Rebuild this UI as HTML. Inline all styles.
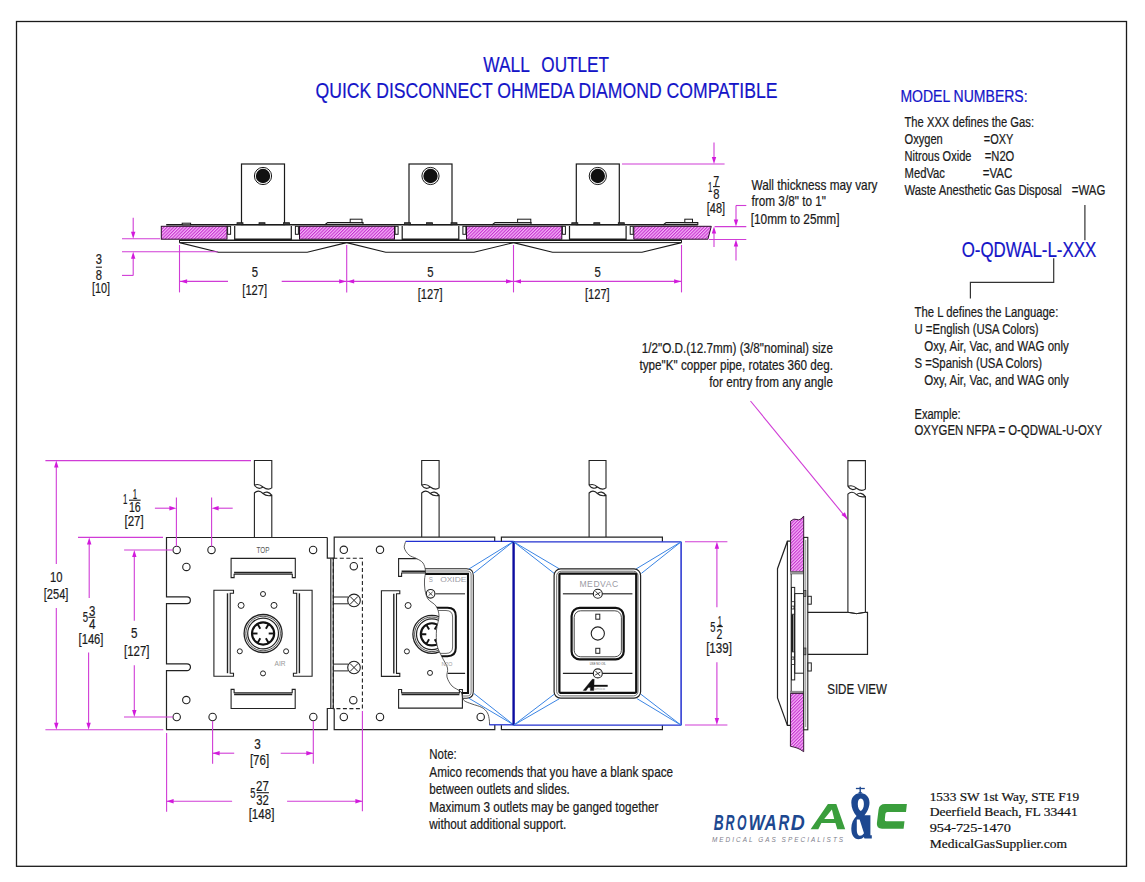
<!DOCTYPE html>
<html><head><meta charset="utf-8"><style>
html,body{margin:0;padding:0;background:#fff;}
svg{display:block;}
</style></head><body>
<svg width="1145" height="882" viewBox="0 0 1145 882">
<defs>
<pattern id="hatch" patternUnits="userSpaceOnUse" width="2.3" height="2.3" patternTransform="rotate(45)">
<rect width="2.3" height="2.3" fill="#f6b4f8"/><rect width="1.1" height="2.3" fill="#c634cf"/>
</pattern>
</defs>
<rect width="1145" height="882" fill="#fff"/>
<rect x="16.5" y="21.5" width="1110" height="844.8" rx="0" stroke="#1a1a1a" stroke-width="1.3" fill="none" />
<text x="483.3" y="71.9" font-size="22.5" fill="#1414c8" text-anchor="start" font-family='"Liberation Sans", sans-serif' textLength="46.5" lengthAdjust="spacingAndGlyphs" stroke="#1414c8" stroke-width="0.22" >WALL</text>
<text x="541.3" y="71.9" font-size="22.5" fill="#1414c8" text-anchor="start" font-family='"Liberation Sans", sans-serif' textLength="67.7" lengthAdjust="spacingAndGlyphs" stroke="#1414c8" stroke-width="0.22" >OUTLET</text>
<text x="315.5" y="97.6" font-size="22" fill="#1414c8" text-anchor="start" font-family='"Liberation Sans", sans-serif' textLength="462" lengthAdjust="spacingAndGlyphs" stroke="#1414c8" stroke-width="0.22" >QUICK DISCONNECT OHMEDA DIAMOND COMPATIBLE</text>
<text x="900.4" y="101.5" font-size="16" fill="#1414c8" text-anchor="start" font-family='"Liberation Sans", sans-serif' textLength="127.2" lengthAdjust="spacingAndGlyphs" stroke="#1414c8" stroke-width="0.22" >MODEL NUMBERS:</text>
<text x="904.5" y="126.8" font-size="14" fill="#1a1a1a" text-anchor="start" font-family='"Liberation Sans", sans-serif' textLength="129.5" lengthAdjust="spacingAndGlyphs" stroke="#1a1a1a" stroke-width="0.22" >The XXX defines the Gas:</text>
<text x="904.5" y="143.9" font-size="14" fill="#1a1a1a" text-anchor="start" font-family='"Liberation Sans", sans-serif' textLength="38.3" lengthAdjust="spacingAndGlyphs" stroke="#1a1a1a" stroke-width="0.22" >Oxygen</text>
<text x="983.8" y="143.9" font-size="14" fill="#1a1a1a" text-anchor="start" font-family='"Liberation Sans", sans-serif' textLength="29.5" lengthAdjust="spacingAndGlyphs" stroke="#1a1a1a" stroke-width="0.22" >=OXY</text>
<text x="904.5" y="160.8" font-size="14" fill="#1a1a1a" text-anchor="start" font-family='"Liberation Sans", sans-serif' textLength="67" lengthAdjust="spacingAndGlyphs" stroke="#1a1a1a" stroke-width="0.22" >Nitrous Oxide</text>
<text x="984.8" y="160.8" font-size="14" fill="#1a1a1a" text-anchor="start" font-family='"Liberation Sans", sans-serif' textLength="29.5" lengthAdjust="spacingAndGlyphs" stroke="#1a1a1a" stroke-width="0.22" >=N2O</text>
<text x="904.5" y="177.8" font-size="14" fill="#1a1a1a" text-anchor="start" font-family='"Liberation Sans", sans-serif' textLength="40.5" lengthAdjust="spacingAndGlyphs" stroke="#1a1a1a" stroke-width="0.22" >MedVac</text>
<text x="982.8" y="177.8" font-size="14" fill="#1a1a1a" text-anchor="start" font-family='"Liberation Sans", sans-serif' textLength="29.5" lengthAdjust="spacingAndGlyphs" stroke="#1a1a1a" stroke-width="0.22" >=VAC</text>
<text x="904.5" y="194.5" font-size="14" fill="#1a1a1a" text-anchor="start" font-family='"Liberation Sans", sans-serif' textLength="157.3" lengthAdjust="spacingAndGlyphs" stroke="#1a1a1a" stroke-width="0.22" >Waste Anesthetic Gas Disposal</text>
<text x="1071.8" y="194.5" font-size="14" fill="#1a1a1a" text-anchor="start" font-family='"Liberation Sans", sans-serif' textLength="33.6" lengthAdjust="spacingAndGlyphs" stroke="#1a1a1a" stroke-width="0.22" >=WAG</text>
<line x1="1084.9" y1="205" x2="1084.9" y2="240.2" stroke="#333" stroke-width="1.2" />
<text x="961.7" y="256.9" font-size="21.8" fill="#1414c8" text-anchor="start" font-family='"Liberation Sans", sans-serif' textLength="134.6" lengthAdjust="spacingAndGlyphs" stroke="#1414c8" stroke-width="0.22" >O-QDWAL-L-XXX</text>
<path d="M1053.7,258.3 V282.4 H970.4 V298.4" stroke="#333" stroke-width="1.2" fill="none" />
<text x="914.5" y="317.1" font-size="14" fill="#1a1a1a" text-anchor="start" font-family='"Liberation Sans", sans-serif' textLength="143.8" lengthAdjust="spacingAndGlyphs" stroke="#1a1a1a" stroke-width="0.22" >The L defines the Language:</text>
<text x="914.5" y="333.8" font-size="14" fill="#1a1a1a" text-anchor="start" font-family='"Liberation Sans", sans-serif' textLength="124.1" lengthAdjust="spacingAndGlyphs" stroke="#1a1a1a" stroke-width="0.22" >U =English (USA Colors)</text>
<text x="924.2" y="351.3" font-size="14" fill="#1a1a1a" text-anchor="start" font-family='"Liberation Sans", sans-serif' textLength="144.6" lengthAdjust="spacingAndGlyphs" stroke="#1a1a1a" stroke-width="0.22" >Oxy, Air, Vac, and WAG only</text>
<text x="914.5" y="368.3" font-size="14" fill="#1a1a1a" text-anchor="start" font-family='"Liberation Sans", sans-serif' textLength="127.5" lengthAdjust="spacingAndGlyphs" stroke="#1a1a1a" stroke-width="0.22" >S =Spanish (USA Colors)</text>
<text x="924.2" y="385.4" font-size="14" fill="#1a1a1a" text-anchor="start" font-family='"Liberation Sans", sans-serif' textLength="144.6" lengthAdjust="spacingAndGlyphs" stroke="#1a1a1a" stroke-width="0.22" >Oxy, Air, Vac, and WAG only</text>
<text x="914.5" y="418.6" font-size="14" fill="#1a1a1a" text-anchor="start" font-family='"Liberation Sans", sans-serif' textLength="46.2" lengthAdjust="spacingAndGlyphs" stroke="#1a1a1a" stroke-width="0.22" >Example:</text>
<text x="914.5" y="435.0" font-size="14" fill="#1a1a1a" text-anchor="start" font-family='"Liberation Sans", sans-serif' textLength="187.5" lengthAdjust="spacingAndGlyphs" stroke="#1a1a1a" stroke-width="0.22" >OXYGEN NFPA = O-QDWAL-U-OXY</text>
<text x="833" y="352.6" font-size="14" fill="#1a1a1a" text-anchor="end" font-family='"Liberation Sans", sans-serif' textLength="191.2" lengthAdjust="spacingAndGlyphs" stroke="#1a1a1a" stroke-width="0.22" >1/2"O.D.(12.7mm) (3/8"nominal) size</text>
<text x="833" y="370.0" font-size="14" fill="#1a1a1a" text-anchor="end" font-family='"Liberation Sans", sans-serif' textLength="193.5" lengthAdjust="spacingAndGlyphs" stroke="#1a1a1a" stroke-width="0.22" >type"K" copper pipe, rotates 360 deg.</text>
<text x="833" y="387.1" font-size="14" fill="#1a1a1a" text-anchor="end" font-family='"Liberation Sans", sans-serif' textLength="123.7" lengthAdjust="spacingAndGlyphs" stroke="#1a1a1a" stroke-width="0.22" >for entry from any angle</text>
<line x1="750.5" y1="401" x2="847.4" y2="519.3" stroke="#d03cd6" stroke-width="1.1" />
<line x1="166.2" y1="224.7" x2="697.8" y2="224.7" stroke="#1a1a1a" stroke-width="1.6" />
<path d="M324.6,225 L327.6,222.6 H363 V225" stroke="#1a1a1a" stroke-width="1.1" fill="none" />
<path d="M492,225 L495,222.6 H531 V225" stroke="#1a1a1a" stroke-width="1.1" fill="none" />
<path d="M663.1,225 L666.1,222.6 H697.8 V225" stroke="#1a1a1a" stroke-width="1.1" fill="none" />
<rect x="182.2" y="223.2" width="8.400000000000006" height="1.6" rx="0" stroke="#1a1a1a" stroke-width="1" fill="white" />
<rect x="350.2" y="219.2" width="11.800000000000011" height="3.4000000000000057" rx="0" stroke="#1a1a1a" stroke-width="1" fill="white" />
<rect x="517.6" y="219.2" width="13.199999999999932" height="3.4000000000000057" rx="0" stroke="#1a1a1a" stroke-width="1" fill="white" />
<rect x="684.8" y="219.2" width="7.7000000000000455" height="3.4000000000000057" rx="0" stroke="#1a1a1a" stroke-width="1" fill="white" />
<rect x="161.3" y="226.3" width="65.69999999999999" height="12.9" rx="0" stroke="#2a0a2a" stroke-width="1" fill="url(#hatch)" />
<rect x="299.5" y="226.3" width="95.0" height="12.9" rx="0" stroke="#2a0a2a" stroke-width="1" fill="url(#hatch)" />
<rect x="466.5" y="226.3" width="95.29999999999995" height="12.9" rx="0" stroke="#2a0a2a" stroke-width="1" fill="url(#hatch)" />
<path d="M633.8,226.3 H711.3 L707.9,239.2 H633.8 Z" stroke="#2a0a2a" stroke-width="1" fill="url(#hatch)" />
<rect x="241.5" y="164" width="43" height="60.6" rx="0" stroke="#1a1a1a" stroke-width="1.2" fill="white" />
<circle cx="263.0" cy="176" r="8.6" stroke="#1a1a1a" stroke-width="1" fill="white" />
<circle cx="263.0" cy="176" r="7.2" stroke="none" stroke-width="0" fill="#111" />
<rect x="237.0" y="222.7" width="6" height="2" rx="0" stroke="#1a1a1a" stroke-width="0.8" fill="#444" />
<rect x="259.0" y="222.7" width="6" height="2" rx="0" stroke="#1a1a1a" stroke-width="0.8" fill="#444" />
<rect x="283.5" y="222.7" width="6" height="2" rx="0" stroke="#1a1a1a" stroke-width="0.8" fill="#444" />
<rect x="227.6" y="226.3" width="3" height="8" rx="0" stroke="#1a1a1a" stroke-width="1" fill="white" />
<rect x="295.4" y="226.3" width="3" height="8" rx="0" stroke="#1a1a1a" stroke-width="1" fill="white" />
<path d="M234.7,226 V239.6 H291.3 V226" stroke="#1a1a1a" stroke-width="1.2" fill="none" />
<line x1="234.7" y1="239.6" x2="291.3" y2="239.6" stroke="#1a1a1a" stroke-width="2" />
<rect x="409.0" y="164" width="43" height="60.6" rx="0" stroke="#1a1a1a" stroke-width="1.2" fill="white" />
<circle cx="430.5" cy="176" r="8.6" stroke="#1a1a1a" stroke-width="1" fill="white" />
<circle cx="430.5" cy="176" r="7.2" stroke="none" stroke-width="0" fill="#111" />
<rect x="404.5" y="222.7" width="6" height="2" rx="0" stroke="#1a1a1a" stroke-width="0.8" fill="#444" />
<rect x="426.5" y="222.7" width="6" height="2" rx="0" stroke="#1a1a1a" stroke-width="0.8" fill="#444" />
<rect x="451.0" y="222.7" width="6" height="2" rx="0" stroke="#1a1a1a" stroke-width="0.8" fill="#444" />
<rect x="395.1" y="226.3" width="3" height="8" rx="0" stroke="#1a1a1a" stroke-width="1" fill="white" />
<rect x="462.9" y="226.3" width="3" height="8" rx="0" stroke="#1a1a1a" stroke-width="1" fill="white" />
<path d="M402.2,226 V239.6 H458.8 V226" stroke="#1a1a1a" stroke-width="1.2" fill="none" />
<line x1="402.2" y1="239.6" x2="458.8" y2="239.6" stroke="#1a1a1a" stroke-width="2" />
<rect x="576.3" y="164" width="43" height="60.6" rx="0" stroke="#1a1a1a" stroke-width="1.2" fill="white" />
<circle cx="597.8" cy="176" r="8.6" stroke="#1a1a1a" stroke-width="1" fill="white" />
<circle cx="597.8" cy="176" r="7.2" stroke="none" stroke-width="0" fill="#111" />
<rect x="571.8" y="222.7" width="6" height="2" rx="0" stroke="#1a1a1a" stroke-width="0.8" fill="#444" />
<rect x="593.8" y="222.7" width="6" height="2" rx="0" stroke="#1a1a1a" stroke-width="0.8" fill="#444" />
<rect x="618.3" y="222.7" width="6" height="2" rx="0" stroke="#1a1a1a" stroke-width="0.8" fill="#444" />
<rect x="562.4" y="226.3" width="3" height="8" rx="0" stroke="#1a1a1a" stroke-width="1" fill="white" />
<rect x="630.1999999999999" y="226.3" width="3" height="8" rx="0" stroke="#1a1a1a" stroke-width="1" fill="white" />
<path d="M569.5,226 V239.6 H626.0999999999999 V226" stroke="#1a1a1a" stroke-width="1.2" fill="none" />
<line x1="569.5" y1="239.6" x2="626.0999999999999" y2="239.6" stroke="#1a1a1a" stroke-width="2" />
<line x1="179.5" y1="240.3" x2="681.5" y2="240.3" stroke="#1a1a1a" stroke-width="1.6" />
<line x1="179.5" y1="242.6" x2="681.5" y2="242.6" stroke="#1a1a1a" stroke-width="1" />
<line x1="179.5" y1="240" x2="179.5" y2="242.6" stroke="#1a1a1a" stroke-width="1" />
<line x1="681.5" y1="240" x2="681.5" y2="242.6" stroke="#1a1a1a" stroke-width="1" />
<path d="M179.5,242.6 L218.5,252.2 H307.2 L346.7,242.6" stroke="#1a1a1a" stroke-width="1.1" fill="none" />
<path d="M346.7,242.6 L385.7,252.2 H474.0 L513.5,242.6" stroke="#1a1a1a" stroke-width="1.1" fill="none" />
<path d="M513.5,242.6 L552.5,252.2 H642.0 L681.5,242.6" stroke="#1a1a1a" stroke-width="1.1" fill="none" />
<line x1="122" y1="238.7" x2="160" y2="238.7" stroke="#d03cd6" stroke-width="1.1" />
<line x1="122" y1="251.8" x2="217.5" y2="251.8" stroke="#d03cd6" stroke-width="1.1" />
<line x1="133.2" y1="217.8" x2="133.2" y2="233" stroke="#d03cd6" stroke-width="1.1" />
<polygon points="133.2,238.7 131.0,231.7 135.39999999999998,231.7" fill="#d21adc"/>
<line x1="133.2" y1="275.4" x2="133.2" y2="258" stroke="#d03cd6" stroke-width="1.1" />
<polygon points="133.2,251.8 131.0,258.8 135.39999999999998,258.8" fill="#d21adc"/>
<line x1="122" y1="275.4" x2="133.2" y2="275.4" stroke="#d03cd6" stroke-width="1.1" />
<line x1="179.5" y1="245" x2="179.5" y2="292.4" stroke="#d03cd6" stroke-width="1.1" />
<line x1="346.7" y1="245" x2="346.7" y2="292.4" stroke="#d03cd6" stroke-width="1.1" />
<line x1="513.5" y1="245" x2="513.5" y2="292.4" stroke="#d03cd6" stroke-width="1.1" />
<line x1="681.5" y1="245" x2="681.5" y2="292.4" stroke="#d03cd6" stroke-width="1.1" />
<line x1="179.6" y1="281.4" x2="228" y2="281.4" stroke="#d03cd6" stroke-width="1.1" />
<line x1="281.7" y1="281.4" x2="346.7" y2="281.4" stroke="#d03cd6" stroke-width="1.1" />
<line x1="346.7" y1="281.4" x2="513.5" y2="281.4" stroke="#d03cd6" stroke-width="1.1" />
<line x1="513.5" y1="281.4" x2="681.6" y2="281.4" stroke="#d03cd6" stroke-width="1.1" />
<polygon points="180.1,281.4 187.1,279.2 187.1,283.59999999999997" fill="#d21adc"/>
<polygon points="346.2,281.4 339.2,279.2 339.2,283.59999999999997" fill="#d21adc"/>
<polygon points="347.2,281.4 354.2,279.2 354.2,283.59999999999997" fill="#d21adc"/>
<polygon points="513.0,281.4 506.0,279.2 506.0,283.59999999999997" fill="#d21adc"/>
<polygon points="514.0,281.4 521.0,279.2 521.0,283.59999999999997" fill="#d21adc"/>
<polygon points="681.1,281.4 674.1,279.2 674.1,283.59999999999997" fill="#d21adc"/>
<text x="255.0" y="277.1" font-size="14.5" fill="#1a1a1a" text-anchor="middle" font-family='"Liberation Sans", sans-serif' textLength="6.3" lengthAdjust="spacingAndGlyphs" stroke="#1a1a1a" stroke-width="0.22" >5</text>
<text x="254.7" y="295.0" font-size="14.5" fill="#1a1a1a" text-anchor="middle" font-family='"Liberation Sans", sans-serif' textLength="24.8" lengthAdjust="spacingAndGlyphs" stroke="#1a1a1a" stroke-width="0.22" >[127]</text>
<text x="430.4" y="277.1" font-size="14.5" fill="#1a1a1a" text-anchor="middle" font-family='"Liberation Sans", sans-serif' textLength="6.3" lengthAdjust="spacingAndGlyphs" stroke="#1a1a1a" stroke-width="0.22" >5</text>
<text x="430.09999999999997" y="298.9" font-size="14.5" fill="#1a1a1a" text-anchor="middle" font-family='"Liberation Sans", sans-serif' textLength="24.8" lengthAdjust="spacingAndGlyphs" stroke="#1a1a1a" stroke-width="0.22" >[127]</text>
<text x="597.6" y="277.1" font-size="14.5" fill="#1a1a1a" text-anchor="middle" font-family='"Liberation Sans", sans-serif' textLength="6.3" lengthAdjust="spacingAndGlyphs" stroke="#1a1a1a" stroke-width="0.22" >5</text>
<text x="597.3000000000001" y="298.9" font-size="14.5" fill="#1a1a1a" text-anchor="middle" font-family='"Liberation Sans", sans-serif' textLength="24.8" lengthAdjust="spacingAndGlyphs" stroke="#1a1a1a" stroke-width="0.22" >[127]</text>
<line x1="622" y1="164" x2="724.6" y2="164" stroke="#d03cd6" stroke-width="1.1" />
<line x1="714" y1="142.5" x2="714" y2="158" stroke="#d03cd6" stroke-width="1.1" />
<polygon points="714,164 711.8,157 716.2,157" fill="#d21adc"/>
<line x1="714" y1="247" x2="714" y2="232" stroke="#d03cd6" stroke-width="1.1" />
<polygon points="714,226.6 711.8,233.6 716.2,233.6" fill="#d21adc"/>
<line x1="714.6" y1="226.6" x2="746.3" y2="226.6" stroke="#d03cd6" stroke-width="1.1" />
<line x1="708.8" y1="239.5" x2="746.3" y2="239.5" stroke="#d03cd6" stroke-width="1.1" />
<line x1="736" y1="205.5" x2="746.3" y2="205.5" stroke="#d03cd6" stroke-width="1.1" />
<line x1="736" y1="205.5" x2="736" y2="221" stroke="#d03cd6" stroke-width="1.1" />
<polygon points="736,226.6 733.8,219.6 738.2,219.6" fill="#d21adc"/>
<line x1="736" y1="260.6" x2="736" y2="245" stroke="#d03cd6" stroke-width="1.1" />
<polygon points="736,239.5 733.8,246.5 738.2,246.5" fill="#d21adc"/>
<text x="751.5" y="189.6" font-size="14.5" fill="#1a1a1a" text-anchor="start" font-family='"Liberation Sans", sans-serif' textLength="126" lengthAdjust="spacingAndGlyphs" stroke="#1a1a1a" stroke-width="0.22" >Wall thickness may vary</text>
<text x="751.5" y="206.3" font-size="14.5" fill="#1a1a1a" text-anchor="start" font-family='"Liberation Sans", sans-serif' textLength="74.5" lengthAdjust="spacingAndGlyphs" stroke="#1a1a1a" stroke-width="0.22" >from 3/8" to 1"</text>
<text x="750.7" y="224.0" font-size="14.5" fill="#1a1a1a" text-anchor="start" font-family='"Liberation Sans", sans-serif' textLength="88.8" lengthAdjust="spacingAndGlyphs" stroke="#1a1a1a" stroke-width="0.22" >[10mm to 25mm]</text>
<text x="98.9" y="264.4" font-size="15" fill="#1a1a1a" text-anchor="middle" font-family='"Liberation Sans", sans-serif' textLength="6.2" lengthAdjust="spacingAndGlyphs" stroke="#1a1a1a" stroke-width="0.22" >3</text>
<line x1="95.9" y1="267.2" x2="101.9" y2="267.2" stroke="#1a1a1a" stroke-width="1.1" />
<text x="98.9" y="279.7" font-size="15" fill="#1a1a1a" text-anchor="middle" font-family='"Liberation Sans", sans-serif' textLength="6.2" lengthAdjust="spacingAndGlyphs" stroke="#1a1a1a" stroke-width="0.22" >8</text>
<text x="101" y="293.4" font-size="15" fill="#1a1a1a" text-anchor="middle" font-family='"Liberation Sans", sans-serif' textLength="18.1" lengthAdjust="spacingAndGlyphs" stroke="#1a1a1a" stroke-width="0.22" >[10]</text>
<text x="710.05" y="191.8" font-size="15" fill="#1a1a1a" text-anchor="middle" font-family='"Liberation Sans", sans-serif' textLength="4.3" lengthAdjust="spacingAndGlyphs" stroke="#1a1a1a" stroke-width="0.22" >1</text>
<text x="716.3" y="186.2" font-size="15" fill="#1a1a1a" text-anchor="middle" font-family='"Liberation Sans", sans-serif' textLength="6.0" lengthAdjust="spacingAndGlyphs" stroke="#1a1a1a" stroke-width="0.22" >7</text>
<line x1="713" y1="186.6" x2="719.8" y2="186.6" stroke="#1a1a1a" stroke-width="1.1" />
<text x="716.3" y="198.9" font-size="15" fill="#1a1a1a" text-anchor="middle" font-family='"Liberation Sans", sans-serif' textLength="6.2" lengthAdjust="spacingAndGlyphs" stroke="#1a1a1a" stroke-width="0.22" >8</text>
<text x="715.9" y="212.5" font-size="15" fill="#1a1a1a" text-anchor="middle" font-family='"Liberation Sans", sans-serif' textLength="18.2" lengthAdjust="spacingAndGlyphs" stroke="#1a1a1a" stroke-width="0.22" >[48]</text>
<path d="M254.4,485.2 V460.5 H271.8 V487.9 C269.4,489.8 266.4,489.59999999999997 263.0,487.0 C260.4,484.59999999999997 257.4,483.8 254.4,485.2" stroke="#222" stroke-width="1.1" fill="none" />
<path d="M254.4,485.2 C256.9,488.8 260.4,488.8 263.0,487.0" stroke="#222" stroke-width="1.1" fill="none" />
<path d="M254.4,537.5 V493.0 C256.9,490.4 259.9,490.4 263.0,493.5 C265.4,495.8 268.9,496.0 271.8,495.4 V537.5" stroke="#222" stroke-width="1.1" fill="none" />
<path d="M263.0,493.5 C265.4,491.4 268.9,491.4 271.8,495.4" stroke="#222" stroke-width="1.1" fill="none" />
<path d="M421.7,485.2 V460.5 H439.1 V487.9 C436.7,489.8 433.7,489.59999999999997 430.3,487.0 C427.7,484.59999999999997 424.7,483.8 421.7,485.2" stroke="#222" stroke-width="1.1" fill="none" />
<path d="M421.7,485.2 C424.2,488.8 427.7,488.8 430.3,487.0" stroke="#222" stroke-width="1.1" fill="none" />
<path d="M421.7,537.1 V493.0 C424.2,490.4 427.2,490.4 430.3,493.5 C432.7,495.8 436.2,496.0 439.1,495.4 V537.1" stroke="#222" stroke-width="1.1" fill="none" />
<path d="M430.3,493.5 C432.7,491.4 436.2,491.4 439.1,495.4" stroke="#222" stroke-width="1.1" fill="none" />
<path d="M589.1,485.2 V460.5 H606.0 V487.9 C603.67,489.8 600.76,489.59999999999997 597.45,487.0 C594.93,484.59999999999997 592.01,483.8 589.1,485.2" stroke="#222" stroke-width="1.1" fill="none" />
<path d="M589.1,485.2 C591.53,488.8 594.93,488.8 597.45,487.0" stroke="#222" stroke-width="1.1" fill="none" />
<path d="M589.1,537.1 V493.0 C591.53,490.4 594.44,490.4 597.45,493.5 C599.78,495.8 603.18,496.0 606.0,495.4 V537.1" stroke="#222" stroke-width="1.1" fill="none" />
<path d="M597.45,493.5 C599.78,491.4 603.18,491.4 606.0,495.4" stroke="#222" stroke-width="1.1" fill="none" />
<path d="M327.3,537.5 H166.5 V596.9 H187 A3.35,3.35 0 0 1 187,603.6 H166.5 V663.8 H187 A3.45,3.45 0 0 1 187,670.7 H166.5 V729.6 H327.3 V708.5 H334.2" stroke="#222" stroke-width="1.2" fill="none" />
<path d="M327.3,537.5 V558.2 H334.2" stroke="#222" stroke-width="1.2" fill="none" />
<line x1="330.8" y1="558.2" x2="330.8" y2="708.5" stroke="#333" stroke-width="1.3" />
<line x1="333.3" y1="558.2" x2="333.3" y2="708.5" stroke="#333" stroke-width="1.3" />
<circle cx="176.7" cy="549.9" r="3.7" stroke="#222" stroke-width="1.1" fill="none" />
<circle cx="211.5" cy="549.9" r="3.7" stroke="#222" stroke-width="1.1" fill="none" />
<circle cx="186.4" cy="566.9" r="3.7" stroke="#222" stroke-width="1.1" fill="none" />
<circle cx="313.1" cy="549.9" r="3.7" stroke="#222" stroke-width="1.1" fill="none" />
<circle cx="176.7" cy="717" r="3.7" stroke="#222" stroke-width="1.1" fill="none" />
<circle cx="212.6" cy="717" r="3.7" stroke="#222" stroke-width="1.1" fill="none" />
<circle cx="313.3" cy="717" r="3.7" stroke="#222" stroke-width="1.1" fill="none" />
<circle cx="186.3" cy="700.1" r="3.7" stroke="#222" stroke-width="1.1" fill="none" />
<text x="262.9" y="552.5" font-size="8.5" fill="#555" text-anchor="middle" font-family='"Liberation Sans", sans-serif' textLength="13" lengthAdjust="spacingAndGlyphs" >TOP</text>
<path d="M231.1,577.6 V558.4 H295.3 V577.6 H292.3 V574.2 H234.1 V577.6 Z" stroke="#222" stroke-width="1.1" fill="none" />
<line x1="234.1" y1="572.6" x2="292.3" y2="572.6" stroke="#222" stroke-width="1.6" />
<path d="M231.1,689.4 V708.5 H295.2 V689.4 H292.2 V692.8 H234.1 V689.4 Z" stroke="#222" stroke-width="1.1" fill="none" />
<line x1="234.1" y1="694.4" x2="292.2" y2="694.4" stroke="#222" stroke-width="1.6" />
<path d="M233.5,590.3 H213.9 V676.2 H233.5 V673.2 H230.2 V593.3 H233.5 Z" stroke="#222" stroke-width="1.1" fill="none" />
<line x1="227.5" y1="593.3" x2="227.5" y2="673.2" stroke="#222" stroke-width="1.4" />
<path d="M293.4,590.3 H312.1 V676.2 H293.4 V673.2 H296.7 V593.3 H293.4 Z" stroke="#222" stroke-width="1.1" fill="none" />
<line x1="299.4" y1="593.3" x2="299.4" y2="673.2" stroke="#222" stroke-width="1.4" />
<circle cx="263" cy="594" r="2.5" stroke="#222" stroke-width="1" fill="none" />
<circle cx="241.1" cy="605.4" r="3" stroke="#222" stroke-width="1" fill="none" />
<circle cx="274" cy="605.4" r="3" stroke="#222" stroke-width="1" fill="none" />
<circle cx="239.8" cy="651.3" r="2.5" stroke="#222" stroke-width="1" fill="none" />
<circle cx="286.1" cy="651.3" r="2.5" stroke="#222" stroke-width="1" fill="none" />
<circle cx="263" cy="673.4" r="2.5" stroke="#222" stroke-width="1" fill="none" />
<g >
<circle cx="263.1" cy="633.5" r="19" stroke="#222" stroke-width="1.3" fill="none" />
<circle cx="263.1" cy="633.5" r="17.3" stroke="#222" stroke-width="0.8" fill="none" />
<circle cx="263.1" cy="633.5" r="15.4" stroke="#222" stroke-width="1.2" fill="none" />
<circle cx="263.1" cy="633.5" r="11.1" stroke="#111" stroke-width="2.1" fill="none" />
<line x1="268.7" y1="633.5" x2="273.6" y2="633.5" stroke="#111" stroke-width="1.9" />
<line x1="265.9" y1="638.35" x2="268.35" y2="642.59" stroke="#111" stroke-width="1.9" />
<line x1="260.3" y1="638.35" x2="257.85" y2="642.59" stroke="#111" stroke-width="1.9" />
<line x1="257.5" y1="633.5" x2="252.6" y2="633.5" stroke="#111" stroke-width="1.9" />
<line x1="260.3" y1="628.65" x2="257.85" y2="624.41" stroke="#111" stroke-width="1.9" />
<line x1="265.9" y1="628.65" x2="268.35" y2="624.41" stroke="#111" stroke-width="1.9" />
</g>
<text x="280.1" y="666" font-size="6.5" fill="#999" text-anchor="middle" font-family='"Liberation Sans", sans-serif' textLength="11" lengthAdjust="spacingAndGlyphs" >AIR</text>
<path d="M334.2,558.2 V537.1 H494.7 V541.7" stroke="#222" stroke-width="1.2" fill="none" />
<path d="M334.2,708.5 V729.6 H494.8 V725" stroke="#222" stroke-width="1.2" fill="none" />
<circle cx="343.8" cy="549.8" r="3.7" stroke="#222" stroke-width="1.1" fill="none" />
<circle cx="380" cy="549.8" r="3.7" stroke="#222" stroke-width="1.1" fill="none" />
<circle cx="353.8" cy="566.2" r="3.7" stroke="#222" stroke-width="1.1" fill="none" />
<circle cx="353.3" cy="700.2" r="3.7" stroke="#222" stroke-width="1.1" fill="none" />
<circle cx="343.8" cy="716.9" r="3.7" stroke="#222" stroke-width="1.1" fill="none" />
<circle cx="380" cy="716.9" r="3.7" stroke="#222" stroke-width="1.1" fill="none" />
<circle cx="480.7" cy="716.9" r="3.7" stroke="#222" stroke-width="1.1" fill="none" />
<rect x="333.3" y="558.2" width="29.1" height="150.4" rx="0" stroke="#222" stroke-width="1.1" fill="none" stroke-dasharray="4,2.5"/>
<line x1="333.3" y1="597.0" x2="348" y2="597.0" stroke="#222" stroke-width="1" />
<line x1="333.3" y1="603.8" x2="348" y2="603.8" stroke="#222" stroke-width="1" />
<line x1="333.3" y1="664.1" x2="348" y2="664.1" stroke="#222" stroke-width="1" />
<line x1="333.3" y1="670.9" x2="348" y2="670.9" stroke="#222" stroke-width="1" />
<circle cx="354" cy="600.4" r="6.3" stroke="#222" stroke-width="1.1" fill="white" />
<line x1="350" y1="596.4" x2="358" y2="604.4" stroke="#222" stroke-width="1" />
<line x1="350" y1="604.4" x2="358" y2="596.4" stroke="#222" stroke-width="1" />
<circle cx="354" cy="667.5" r="6.3" stroke="#222" stroke-width="1.1" fill="white" />
<line x1="350" y1="663.5" x2="358" y2="671.5" stroke="#222" stroke-width="1" />
<line x1="350" y1="671.5" x2="358" y2="663.5" stroke="#222" stroke-width="1" />
<path d="M399.8,590.7 H381.4 V676.4 H399.8 V673.4 H396.5 V593.7 H399.8 Z" stroke="#222" stroke-width="1.1" fill="none" />
<line x1="393.8" y1="593.7" x2="393.8" y2="673.4" stroke="#222" stroke-width="1.4" />
<clipPath id="cutL"><path d="M300,530 H405.7 V541.4 C405.5,542.5 403.8,545.7 404.3,548 C404.9,550.3 407.0,553.2 409,555 C411.0,556.8 414.2,557.2 416.5,558.5 C418.8,559.8 421.5,560.9 423,563 C424.5,565.1 425.2,568.2 425.5,571 C425.8,573.8 424.6,576.8 424.5,580 C424.4,583.2 424.4,586.8 425,590 C425.6,593.2 426.2,596.3 428,599 C429.8,601.7 434.2,603.2 436,606 C437.8,608.8 438.9,612.0 439,616 C439.1,620.0 436.8,625.2 436.5,630 C436.2,634.8 436.1,640.5 437,645 C437.9,649.5 440.2,653.2 442,657 C443.8,660.8 446.7,664.7 447.5,668 C448.3,671.3 446.2,674.0 447,677 C447.8,680.0 449.7,683.5 452,686 C454.3,688.5 459.1,689.7 461,692 C462.9,694.3 461.7,698.0 463.5,700 C465.3,702.0 468.9,702.8 472,704 C475.1,705.2 479.4,706.0 482,707.5 C484.6,709.0 486.3,710.9 487.5,713 C488.7,715.1 489.0,718.0 489.3,720 C489.6,722.0 489.5,724.2 489.5,725 V760 H300 Z"/></clipPath>
<clipPath id="cutR"><path d="M405.7,530 H700 V760 H489.5 V725 C489.5,724.2 489.6,722.0 489.3,720 C489.0,718.0 488.7,715.1 487.5,713 C486.3,710.9 484.6,709.0 482,707.5 C479.4,706.0 475.1,705.2 472,704 C468.9,702.8 465.3,702.0 463.5,700 C461.7,698.0 462.9,694.3 461,692 C459.1,689.7 454.3,688.5 452,686 C449.7,683.5 447.8,680.0 447,677 C446.2,674.0 448.3,671.3 447.5,668 C446.7,664.7 443.8,660.8 442,657 C440.2,653.2 437.9,649.5 437,645 C436.1,640.5 436.2,634.8 436.5,630 C436.8,625.2 439.1,620.0 439,616 C438.9,612.0 437.8,608.8 436,606 C434.2,603.2 429.8,601.7 428,599 C426.2,596.3 425.6,593.2 425,590 C424.4,586.8 424.4,583.2 424.5,580 C424.6,576.8 425.8,573.8 425.5,571 C425.2,568.2 424.5,565.1 423,563 C421.5,560.9 418.8,559.8 416.5,558.5 C414.2,557.2 411.0,556.8 409,555 C407.0,553.2 404.9,550.3 404.3,548 C403.8,545.7 405.5,542.5 405.7,541.4 Z"/></clipPath>
<g clip-path="url(#cutL)">
<path d="M398.6,576.4 V558.6 H462.4 V576.4 H459.4 V573.0 H401.6 V576.4 Z" stroke="#222" stroke-width="1.1" fill="none" />
<line x1="401.6" y1="571.4" x2="459.4" y2="571.4" stroke="#222" stroke-width="1.6" />
<g >
<circle cx="431.9" cy="634.3" r="19" stroke="#222" stroke-width="1.3" fill="none" />
<circle cx="431.9" cy="634.3" r="17.3" stroke="#222" stroke-width="0.8" fill="none" />
<circle cx="431.9" cy="634.3" r="15.4" stroke="#222" stroke-width="1.2" fill="none" />
<circle cx="431.9" cy="634.3" r="11.1" stroke="#111" stroke-width="2.1" fill="none" />
<line x1="437.5" y1="634.3" x2="442.4" y2="634.3" stroke="#111" stroke-width="1.9" />
<line x1="434.7" y1="639.15" x2="437.15" y2="643.39" stroke="#111" stroke-width="1.9" />
<line x1="429.1" y1="639.15" x2="426.65" y2="643.39" stroke="#111" stroke-width="1.9" />
<line x1="426.3" y1="634.3" x2="421.4" y2="634.3" stroke="#111" stroke-width="1.9" />
<line x1="429.1" y1="629.45" x2="426.65" y2="625.21" stroke="#111" stroke-width="1.9" />
<line x1="434.7" y1="629.45" x2="437.15" y2="625.21" stroke="#111" stroke-width="1.9" />
</g>
<circle cx="408.1" cy="605.5" r="3" stroke="#222" stroke-width="1" fill="none" />
<circle cx="406.9" cy="651.4" r="2.5" stroke="#222" stroke-width="1" fill="none" />
<circle cx="430" cy="672.9" r="2.5" stroke="#222" stroke-width="1" fill="none" />
<circle cx="430" cy="594" r="2.5" stroke="#222" stroke-width="1" fill="none" />
<circle cx="453" cy="605.4" r="3" stroke="#222" stroke-width="1" fill="none" />
<circle cx="455" cy="651.3" r="2.5" stroke="#222" stroke-width="1" fill="none" />
</g>
<path d="M398.6,689.5 V708.1 H462.4 V689.5 H459.4 V692.9 H401.6 V689.5 Z" stroke="#222" stroke-width="1.1" fill="none" />
<line x1="401.6" y1="694.5" x2="459.4" y2="694.5" stroke="#222" stroke-width="1.6" />
<path d="M405.7,541.4 C405.5,542.5 403.8,545.7 404.3,548 C404.9,550.3 407.0,553.2 409,555 C411.0,556.8 414.2,557.2 416.5,558.5 C418.8,559.8 421.5,560.9 423,563 C424.5,565.1 425.2,568.2 425.5,571 C425.8,573.8 424.6,576.8 424.5,580 C424.4,583.2 424.4,586.8 425,590 C425.6,593.2 426.2,596.3 428,599 C429.8,601.7 434.2,603.2 436,606 C437.8,608.8 438.9,612.0 439,616 C439.1,620.0 436.8,625.2 436.5,630 C436.2,634.8 436.1,640.5 437,645 C437.9,649.5 440.2,653.2 442,657 C443.8,660.8 446.7,664.7 447.5,668 C448.3,671.3 446.2,674.0 447,677 C447.8,680.0 449.7,683.5 452,686 C454.3,688.5 459.1,689.7 461,692 C462.9,694.3 461.7,698.0 463.5,700 C465.3,702.0 468.9,702.8 472,704 C475.1,705.2 479.4,706.0 482,707.5 C484.6,709.0 486.3,710.9 487.5,713 C488.7,715.1 489.0,718.0 489.3,720 C489.6,722.0 489.5,724.2 489.5,725" stroke="#333" stroke-width="0.8" fill="none" />
<g clip-path="url(#cutR)">
<path d="M420,568.7 H466.5 Q473.3,568.7 473.3,575.5 V691.5 Q473.3,698.2 466.5,698.2 H420" stroke="#222" stroke-width="1.1" fill="none" />
<path d="M420,571 H467 Q471.1,571 471.1,575 V692 Q471.1,696 467,696 H420" stroke="#555" stroke-width="0.8" fill="none" />
<path d="M420,573.9 H468 V693 H420" stroke="#111" stroke-width="2.1" fill="none" />
<text x="428.8" y="581.9" font-size="7.8" fill="#9a9aa4" text-anchor="start" font-family='"Liberation Sans", sans-serif' textLength="4.1" lengthAdjust="spacingAndGlyphs" >S</text>
<text x="440.2" y="581.9" font-size="7.8" fill="#9a9aa4" text-anchor="start" font-family='"Liberation Sans", sans-serif' textLength="26.2" lengthAdjust="spacingAndGlyphs" >OXIDE</text>
<circle cx="430.6" cy="593.8" r="4.3" stroke="#222" stroke-width="1.1" fill="none" />
<line x1="428.5" y1="591.8" x2="432.7" y2="595.8" stroke="#222" stroke-width="0.8" />
<line x1="428.5" y1="595.8" x2="432.7" y2="591.8" stroke="#222" stroke-width="0.8" />
<line x1="435.2" y1="593.8" x2="465" y2="593.8" stroke="#666" stroke-width="1.5" />
<path d="M420,607.7 H447.5 Q455.8,607.7 455.8,616 V648 Q455.8,656.2 447.5,656.2 H420" stroke="#111" stroke-width="2" fill="none" />
<path d="M420,610.5 H446 Q452.6,610.5 452.6,617 V647 Q452.6,653.4 446,653.4 H420" stroke="#444" stroke-width="0.8" fill="none" />
<line x1="447.8" y1="673.4" x2="465.1" y2="673.4" stroke="#222" stroke-width="1.1" />
</g>
<text x="447" y="665.8" font-size="6" fill="#999" text-anchor="middle" font-family='"Liberation Sans", sans-serif' textLength="11" lengthAdjust="spacingAndGlyphs" >N2O</text>
<line x1="405.7" y1="541.4" x2="513.6" y2="541.4" stroke="#2230d0" stroke-width="1.3" />
<line x1="489.3" y1="724.8" x2="513.6" y2="724.8" stroke="#2230d0" stroke-width="1.3" />
<line x1="513.6" y1="541.4" x2="469.1" y2="568.9" stroke="#3a84e4" stroke-width="1" />
<line x1="513.6" y1="541.4" x2="473.5" y2="573.3" stroke="#3a84e4" stroke-width="1" />
<line x1="513.6" y1="724.8" x2="473.7" y2="693.3" stroke="#3a84e4" stroke-width="1" />
<line x1="513.6" y1="724.8" x2="468.8" y2="698.2" stroke="#3a84e4" stroke-width="1" />
<path d="M501.4,541.8 V537.1 H662.4 V541.8" stroke="#222" stroke-width="1.2" fill="none" />
<path d="M501.4,725.2 V729.6 H662.4 V725.2" stroke="#222" stroke-width="1.2" fill="none" />
<line x1="513.6" y1="541.8" x2="681.1" y2="541.8" stroke="#2230d0" stroke-width="1.3" />
<line x1="513.6" y1="725.2" x2="681.1" y2="725.2" stroke="#2230d0" stroke-width="1.3" />
<line x1="513.6" y1="541.4" x2="513.6" y2="725.2" stroke="#0c0ca0" stroke-width="2.4" />
<line x1="681.1" y1="541.8" x2="681.1" y2="725.2" stroke="#2230d0" stroke-width="1.5" />
<line x1="513.6" y1="541.8" x2="559.4" y2="568.9" stroke="#3a84e4" stroke-width="1" />
<line x1="513.6" y1="541.8" x2="554.1" y2="573.3" stroke="#3a84e4" stroke-width="1" />
<line x1="681.1" y1="541.8" x2="636.2" y2="568.9" stroke="#3a84e4" stroke-width="1" />
<line x1="681.1" y1="541.8" x2="641.5" y2="573.3" stroke="#3a84e4" stroke-width="1" />
<line x1="513.6" y1="725.2" x2="554.5" y2="694" stroke="#3a84e4" stroke-width="1" />
<line x1="513.6" y1="725.2" x2="559.4" y2="698.7" stroke="#3a84e4" stroke-width="1" />
<line x1="681.1" y1="725.2" x2="640.6" y2="694" stroke="#3a84e4" stroke-width="1" />
<line x1="681.1" y1="725.2" x2="637.1" y2="698.7" stroke="#3a84e4" stroke-width="1" />
<rect x="554.1" y="568.9" width="86.5" height="129.3" rx="6.5" stroke="#222" stroke-width="1.2" fill="white" />
<rect x="556.7" y="571.2" width="81.3" height="124.7" rx="4.5" stroke="#444" stroke-width="0.8" fill="none" />
<rect x="559.4" y="573.6" width="76.8" height="119.2" rx="1" stroke="#111" stroke-width="2.2" fill="none" />
<text x="599.1" y="586.9" font-size="9.6" fill="#9a9aa4" text-anchor="middle" font-family='"Liberation Sans", sans-serif' textLength="39.3" lengthAdjust="spacingAndGlyphs" letter-spacing="0.6">MEDVAC</text>
<line x1="562.9" y1="593.7" x2="632.4" y2="593.7" stroke="#555" stroke-width="1.4" />
<circle cx="597.8" cy="593.7" r="4.5" stroke="#222" stroke-width="1.1" fill="white" />
<line x1="595.5" y1="591.2" x2="600.2" y2="596.2" stroke="#222" stroke-width="0.9" />
<line x1="595.2" y1="595.2" x2="600.5" y2="592.2" stroke="#222" stroke-width="0.9" />
<rect x="571.6" y="607.9" width="52.1" height="51.5" rx="8" stroke="#111" stroke-width="2.2" fill="none" />
<rect x="574.2" y="610.8" width="47.2" height="46" rx="6.5" stroke="#333" stroke-width="0.9" fill="none" />
<rect x="595.8" y="614.2" width="4" height="5" rx="0" stroke="#222" stroke-width="1" fill="white" />
<rect x="595.8" y="648.3" width="4" height="5" rx="0" stroke="#222" stroke-width="1" fill="white" />
<circle cx="597.8" cy="633.5" r="6.6" stroke="#222" stroke-width="1.1" fill="none" />
<text x="597.8" y="665" font-size="3.6" fill="#444" text-anchor="middle" font-family='"Liberation Sans", sans-serif' textLength="16" lengthAdjust="spacingAndGlyphs" >USE NO OIL</text>
<line x1="562.9" y1="673.4" x2="632.4" y2="673.4" stroke="#222" stroke-width="1.1" />
<circle cx="597.8" cy="673.4" r="4.5" stroke="#222" stroke-width="1.1" fill="white" />
<line x1="595.5" y1="671" x2="600.2" y2="676" stroke="#222" stroke-width="0.9" />
<line x1="595.2" y1="675" x2="600.5" y2="672" stroke="#222" stroke-width="0.9" />
<path d="M583.2,690.4 L592.3,679.3 H594.2 L593.8,690.4 H590.3 L590.5,687.6 H588.2 L586.2,690.4 Z" stroke="#111" stroke-width="0.4" fill="#111" />
<line x1="592.5" y1="685.8" x2="607.7" y2="685.8" stroke="#111" stroke-width="1.9" />
<text x="594" y="690" font-size="4" fill="#999" text-anchor="start" font-family='"Liberation Sans", sans-serif' textLength="11" lengthAdjust="spacingAndGlyphs" >amico</text>
<path d="M790.6,521.1 Q794,518 797,519.5 T803.7,516.1 V571.8 H790.6 Z" stroke="#2a0a2a" stroke-width="0.9" fill="url(#hatch)" />
<rect x="790.6" y="571.8" width="13.1" height="2.2" rx="0" stroke="#777" stroke-width="0.6" fill="#999" />
<rect x="790.6" y="691.2" width="13.1" height="2.2" rx="0" stroke="#777" stroke-width="0.6" fill="#999" />
<path d="M790.6,693.4 H803.7 V751.7 Q800,749 797,748 T790.4,746.3 Z" stroke="#2a0a2a" stroke-width="0.9" fill="url(#hatch)" />
<rect x="803.7" y="537.4" width="4.1" height="192.4" rx="0" stroke="#222" stroke-width="1.1" fill="white" />
<line x1="805.7" y1="540" x2="805.7" y2="727" stroke="#555" stroke-width="0.6" />
<path d="M790.6,541.2 H787.4 L777.5,568.7 V698 L787.4,725.4 H790.6" stroke="#222" stroke-width="1.2" fill="none" />
<line x1="787.4" y1="541.2" x2="787.4" y2="725.4" stroke="#222" stroke-width="1.1" />
<line x1="791.2" y1="574" x2="791.2" y2="691.2" stroke="#222" stroke-width="1" />
<rect x="791.5" y="587.4" width="3.2" height="92.5" rx="0" stroke="#222" stroke-width="1" fill="white" />
<line x1="792.6" y1="614.2" x2="792.6" y2="651.9" stroke="#111" stroke-width="1.1" />
<line x1="794.2" y1="606" x2="794.2" y2="659" stroke="#111" stroke-width="1.1" />
<rect x="791.5" y="601.7" width="3.2" height="4.4" rx="0" stroke="#222" stroke-width="0.8" fill="white" />
<rect x="791.5" y="609" width="3.2" height="5.2" rx="0" stroke="#222" stroke-width="0.8" fill="white" />
<rect x="791.5" y="651.9" width="3.2" height="5.1" rx="0" stroke="#222" stroke-width="0.8" fill="white" />
<rect x="791.5" y="659.2" width="3.2" height="5.2" rx="0" stroke="#222" stroke-width="0.8" fill="white" />
<path d="M794.7,593.6 H803.6 M794.7,673.2 H803.6 M794.7,593.6 V673.2" stroke="#222" stroke-width="1" fill="none" />
<rect x="808" y="596.3" width="3.3" height="7.9" rx="0" stroke="#222" stroke-width="1" fill="white" />
<rect x="808" y="662.9" width="3.3" height="8.1" rx="0" stroke="#222" stroke-width="1" fill="white" />
<rect x="803.7" y="590.6" width="2.2" height="5.9" rx="0" stroke="#222" stroke-width="0.7" fill="#888" />
<rect x="803.7" y="648" width="2.2" height="6.8" rx="0" stroke="#222" stroke-width="0.7" fill="#888" />
<path d="M807.8,612.3 H847.9 M865.4,612.3 H867.5 V654.3 H807.8" stroke="#222" stroke-width="1.2" fill="none" />
<path d="M847.9,612.3 Q856.5,615 865.4,612.3" stroke="#222" stroke-width="1" fill="none" />
<path d="M847.9,612.3 Q856.5,615 865.4,612.3" stroke="#222" stroke-width="1" fill="none" />
<path d="M847.9,486.4 V460.6 H865.4 V489.09999999999997 C862.99,491.0 859.97,490.79999999999995 856.55,488.2 C853.93,485.79999999999995 850.92,485.0 847.9,486.4" stroke="#222" stroke-width="1.1" fill="none" />
<path d="M847.9,486.4 C850.41,490.0 853.93,490.0 856.55,488.2" stroke="#222" stroke-width="1.1" fill="none" />
<path d="M847.9,612.3 V494.2 C850.41,491.59999999999997 853.43,491.59999999999997 856.55,494.7 C858.96,497.0 862.48,497.2 865.4,496.59999999999997 V612.3" stroke="#222" stroke-width="1.1" fill="none" />
<path d="M856.55,494.7 C858.96,492.59999999999997 862.48,492.59999999999997 865.4,496.59999999999997" stroke="#222" stroke-width="1.1" fill="none" />
<text x="827.2" y="693.9" font-size="14.5" fill="#1a1a1a" text-anchor="start" font-family='"Liberation Sans", sans-serif' textLength="59.8" lengthAdjust="spacingAndGlyphs" stroke="#1a1a1a" stroke-width="0.22" >SIDE VIEW</text>
<polygon points="847.6,519.0 841.46,514.98 844.87,512.19" fill="#d21adc"/>
<line x1="45.4" y1="460.6" x2="251" y2="460.6" stroke="#d03cd6" stroke-width="1.1" />
<line x1="56.3" y1="466" x2="56.3" y2="564" stroke="#d03cd6" stroke-width="1.1" />
<polygon points="56.3,460.6 54.099999999999994,467.6 58.5,467.6" fill="#d21adc"/>
<line x1="56.3" y1="608.1" x2="56.3" y2="724" stroke="#d03cd6" stroke-width="1.1" />
<polygon points="56.3,729.7 54.099999999999994,722.7 58.5,722.7" fill="#d21adc"/>
<line x1="45.4" y1="729.7" x2="163.3" y2="729.7" stroke="#d03cd6" stroke-width="1.1" />
<text x="56.3" y="582.2" font-size="14.5" fill="#1a1a1a" text-anchor="middle" font-family='"Liberation Sans", sans-serif' textLength="12.5" lengthAdjust="spacingAndGlyphs" stroke="#1a1a1a" stroke-width="0.22" >10</text>
<text x="56.1" y="598.5" font-size="14.5" fill="#1a1a1a" text-anchor="middle" font-family='"Liberation Sans", sans-serif' textLength="24.6" lengthAdjust="spacingAndGlyphs" stroke="#1a1a1a" stroke-width="0.22" >[254]</text>
<line x1="78" y1="537.4" x2="163" y2="537.4" stroke="#d03cd6" stroke-width="1.1" />
<line x1="89.2" y1="543" x2="89.2" y2="598" stroke="#d03cd6" stroke-width="1.1" />
<polygon points="89.2,537.4 87.0,544.4 91.4,544.4" fill="#d21adc"/>
<line x1="88.6" y1="652.6" x2="88.6" y2="724" stroke="#d03cd6" stroke-width="1.1" />
<polygon points="88.6,729.7 86.39999999999999,722.7 90.8,722.7" fill="#d21adc"/>
<line x1="124.1" y1="550" x2="173" y2="550" stroke="#d03cd6" stroke-width="1.1" />
<line x1="134.3" y1="556" x2="134.3" y2="620.8" stroke="#d03cd6" stroke-width="1.1" />
<polygon points="134.3,550 132.10000000000002,557 136.5,557" fill="#d21adc"/>
<line x1="134.3" y1="665.3" x2="134.3" y2="711" stroke="#d03cd6" stroke-width="1.1" />
<polygon points="134.3,717 132.10000000000002,710 136.5,710" fill="#d21adc"/>
<line x1="124" y1="717" x2="173" y2="717" stroke="#d03cd6" stroke-width="1.1" />
<text x="134.3" y="638" font-size="14.5" fill="#1a1a1a" text-anchor="middle" font-family='"Liberation Sans", sans-serif' textLength="6.5" lengthAdjust="spacingAndGlyphs" stroke="#1a1a1a" stroke-width="0.22" >5</text>
<text x="136.7" y="655.5" font-size="14.5" fill="#1a1a1a" text-anchor="middle" font-family='"Liberation Sans", sans-serif' textLength="25.4" lengthAdjust="spacingAndGlyphs" stroke="#1a1a1a" stroke-width="0.22" >[127]</text>
<text x="85.45" y="621.8" font-size="15" fill="#1a1a1a" text-anchor="middle" font-family='"Liberation Sans", sans-serif' textLength="5.3" lengthAdjust="spacingAndGlyphs" stroke="#1a1a1a" stroke-width="0.22" >5</text>
<text x="92.15" y="616.2" font-size="15" fill="#1a1a1a" text-anchor="middle" font-family='"Liberation Sans", sans-serif' textLength="6.3" lengthAdjust="spacingAndGlyphs" stroke="#1a1a1a" stroke-width="0.22" >3</text>
<line x1="88.4" y1="617.3" x2="95.3" y2="617.3" stroke="#1a1a1a" stroke-width="1.1" />
<text x="92.15" y="628.7" font-size="15" fill="#1a1a1a" text-anchor="middle" font-family='"Liberation Sans", sans-serif' textLength="6.5" lengthAdjust="spacingAndGlyphs" stroke="#1a1a1a" stroke-width="0.22" >4</text>
<text x="91.0" y="643.5" font-size="14.5" fill="#1a1a1a" text-anchor="middle" font-family='"Liberation Sans", sans-serif' textLength="24.9" lengthAdjust="spacingAndGlyphs" stroke="#1a1a1a" stroke-width="0.22" >[146]</text>
<line x1="176.4" y1="497.6" x2="176.4" y2="546.5" stroke="#d03cd6" stroke-width="1.1" />
<line x1="211.6" y1="497.6" x2="211.6" y2="546.5" stroke="#d03cd6" stroke-width="1.1" />
<line x1="154.9" y1="508.2" x2="170.5" y2="508.2" stroke="#d03cd6" stroke-width="1.1" />
<polygon points="176.4,508.2 169.4,506.0 169.4,510.4" fill="#d21adc"/>
<line x1="217.5" y1="508.2" x2="232.7" y2="508.2" stroke="#d03cd6" stroke-width="1.1" />
<polygon points="211.6,508.2 218.6,506.0 218.6,510.4" fill="#d21adc"/>
<text x="125.3" y="504.4" font-size="15" fill="#1a1a1a" text-anchor="middle" font-family='"Liberation Sans", sans-serif' textLength="4.4" lengthAdjust="spacingAndGlyphs" stroke="#1a1a1a" stroke-width="0.22" >1</text>
<text x="134.9" y="498.7" font-size="15" fill="#1a1a1a" text-anchor="middle" font-family='"Liberation Sans", sans-serif' textLength="4.4" lengthAdjust="spacingAndGlyphs" stroke="#1a1a1a" stroke-width="0.22" >1</text>
<line x1="129" y1="500.2" x2="140.6" y2="500.2" stroke="#1a1a1a" stroke-width="1.1" />
<text x="134.8" y="511.9" font-size="15" fill="#1a1a1a" text-anchor="middle" font-family='"Liberation Sans", sans-serif' textLength="11.8" lengthAdjust="spacingAndGlyphs" stroke="#1a1a1a" stroke-width="0.22" >16</text>
<text x="134.1" y="525.5" font-size="14.5" fill="#1a1a1a" text-anchor="middle" font-family='"Liberation Sans", sans-serif' textLength="19.2" lengthAdjust="spacingAndGlyphs" stroke="#1a1a1a" stroke-width="0.22" >[27]</text>
<line x1="212.6" y1="721" x2="212.6" y2="763.7" stroke="#d03cd6" stroke-width="1.1" />
<line x1="313.3" y1="721" x2="313.3" y2="763.7" stroke="#d03cd6" stroke-width="1.1" />
<line x1="212.6" y1="753.2" x2="234.2" y2="753.2" stroke="#d03cd6" stroke-width="1.1" />
<polygon points="212.6,753.2 219.6,751.0 219.6,755.4000000000001" fill="#d21adc"/>
<line x1="280.7" y1="753.2" x2="313.3" y2="753.2" stroke="#d03cd6" stroke-width="1.1" />
<polygon points="313.3,753.2 306.3,751.0 306.3,755.4000000000001" fill="#d21adc"/>
<text x="257.4" y="748.8" font-size="14.5" fill="#1a1a1a" text-anchor="middle" font-family='"Liberation Sans", sans-serif' textLength="6.5" lengthAdjust="spacingAndGlyphs" stroke="#1a1a1a" stroke-width="0.22" >3</text>
<text x="259.5" y="765.3" font-size="14.5" fill="#1a1a1a" text-anchor="middle" font-family='"Liberation Sans", sans-serif' textLength="19.2" lengthAdjust="spacingAndGlyphs" stroke="#1a1a1a" stroke-width="0.22" >[76]</text>
<line x1="166.6" y1="733.1" x2="166.6" y2="811.7" stroke="#d03cd6" stroke-width="1.1" />
<line x1="362.4" y1="711" x2="362.4" y2="811.2" stroke="#d03cd6" stroke-width="1.1" />
<line x1="166.6" y1="801.2" x2="232.1" y2="801.2" stroke="#d03cd6" stroke-width="1.1" />
<polygon points="166.6,801.2 173.6,799.0 173.6,803.4000000000001" fill="#d21adc"/>
<line x1="287.1" y1="801.2" x2="362.4" y2="801.2" stroke="#d03cd6" stroke-width="1.1" />
<polygon points="362.4,801.2 355.4,799.0 355.4,803.4000000000001" fill="#d21adc"/>
<text x="252.9" y="797.7" font-size="15" fill="#1a1a1a" text-anchor="middle" font-family='"Liberation Sans", sans-serif' textLength="5.2" lengthAdjust="spacingAndGlyphs" stroke="#1a1a1a" stroke-width="0.22" >5</text>
<text x="262.5" y="790.9" font-size="15" fill="#1a1a1a" text-anchor="middle" font-family='"Liberation Sans", sans-serif' textLength="12.8" lengthAdjust="spacingAndGlyphs" stroke="#1a1a1a" stroke-width="0.22" >27</text>
<line x1="256.7" y1="792.7" x2="268.9" y2="792.7" stroke="#1a1a1a" stroke-width="1.1" />
<text x="262.5" y="804.7" font-size="15" fill="#1a1a1a" text-anchor="middle" font-family='"Liberation Sans", sans-serif' textLength="12.6" lengthAdjust="spacingAndGlyphs" stroke="#1a1a1a" stroke-width="0.22" >32</text>
<text x="261.5" y="818.5" font-size="14.5" fill="#1a1a1a" text-anchor="middle" font-family='"Liberation Sans", sans-serif' textLength="25.7" lengthAdjust="spacingAndGlyphs" stroke="#1a1a1a" stroke-width="0.22" >[148]</text>
<line x1="685" y1="541.7" x2="727.4" y2="541.7" stroke="#d03cd6" stroke-width="1.1" />
<line x1="685" y1="725" x2="727.4" y2="725" stroke="#d03cd6" stroke-width="1.1" />
<line x1="716.9" y1="547" x2="716.9" y2="607.3" stroke="#d03cd6" stroke-width="1.1" />
<polygon points="716.9,541.7 714.6999999999999,548.7 719.1,548.7" fill="#d21adc"/>
<line x1="716.9" y1="662.2" x2="716.9" y2="719.5" stroke="#d03cd6" stroke-width="1.1" />
<polygon points="716.9,725 714.6999999999999,718 719.1,718" fill="#d21adc"/>
<text x="712.8" y="631.8" font-size="15" fill="#1a1a1a" text-anchor="middle" font-family='"Liberation Sans", sans-serif' textLength="5.2" lengthAdjust="spacingAndGlyphs" stroke="#1a1a1a" stroke-width="0.22" >5</text>
<text x="719.8" y="625.6" font-size="15" fill="#1a1a1a" text-anchor="middle" font-family='"Liberation Sans", sans-serif' textLength="4.2" lengthAdjust="spacingAndGlyphs" stroke="#1a1a1a" stroke-width="0.22" >1</text>
<line x1="716.8" y1="626.6" x2="722.8" y2="626.6" stroke="#1a1a1a" stroke-width="1.1" />
<text x="719.3" y="638.7" font-size="15" fill="#1a1a1a" text-anchor="middle" font-family='"Liberation Sans", sans-serif' textLength="5.8" lengthAdjust="spacingAndGlyphs" stroke="#1a1a1a" stroke-width="0.22" >2</text>
<text x="719.0" y="653" font-size="14.5" fill="#1a1a1a" text-anchor="middle" font-family='"Liberation Sans", sans-serif' textLength="25.7" lengthAdjust="spacingAndGlyphs" stroke="#1a1a1a" stroke-width="0.22" >[139]</text>
<text x="429.3" y="759.3" font-size="14.5" fill="#1a1a1a" text-anchor="start" font-family='"Liberation Sans", sans-serif' textLength="27.4" lengthAdjust="spacingAndGlyphs" stroke="#1a1a1a" stroke-width="0.22" >Note:</text>
<text x="429.3" y="776.8" font-size="14.5" fill="#1a1a1a" text-anchor="start" font-family='"Liberation Sans", sans-serif' textLength="243.8" lengthAdjust="spacingAndGlyphs" stroke="#1a1a1a" stroke-width="0.22" >Amico recomends that you have a blank space</text>
<text x="429.3" y="794.2" font-size="14.5" fill="#1a1a1a" text-anchor="start" font-family='"Liberation Sans", sans-serif' textLength="140.4" lengthAdjust="spacingAndGlyphs" stroke="#1a1a1a" stroke-width="0.22" >between outlets and slides.</text>
<text x="429.3" y="811.7" font-size="14.5" fill="#1a1a1a" text-anchor="start" font-family='"Liberation Sans", sans-serif' textLength="229.1" lengthAdjust="spacingAndGlyphs" stroke="#1a1a1a" stroke-width="0.22" >Maximum 3 outlets may be ganged together</text>
<text x="429.3" y="829.2" font-size="14.5" fill="#1a1a1a" text-anchor="start" font-family='"Liberation Sans", sans-serif' textLength="136.9" lengthAdjust="spacingAndGlyphs" stroke="#1a1a1a" stroke-width="0.22" >without additional support.</text>
<text x="929.7" y="800.9" font-size="12.8" fill="#111" text-anchor="start" font-family='"Liberation Serif", serif' textLength="149.4" lengthAdjust="spacingAndGlyphs" stroke="#111" stroke-width="0.2">1533 SW 1st Way, STE F19</text>
<text x="929.7" y="815.7" font-size="12.8" fill="#111" text-anchor="start" font-family='"Liberation Serif", serif' textLength="148" lengthAdjust="spacingAndGlyphs" stroke="#111" stroke-width="0.2">Deerfield Beach, FL 33441</text>
<text x="929.7" y="831.9" font-size="12.8" fill="#111" text-anchor="start" font-family='"Liberation Serif", serif' textLength="81.2" lengthAdjust="spacingAndGlyphs" stroke="#111" stroke-width="0.2">954-725-1470</text>
<text x="929.7" y="847.6" font-size="12.8" fill="#111" text-anchor="start" font-family='"Liberation Serif", serif' textLength="137.3" lengthAdjust="spacingAndGlyphs" stroke="#111" stroke-width="0.2">MedicalGasSupplier.com</text>
<text x="713.7" y="829.8" font-size="22" fill="#1d4890" text-anchor="start" font-family='"Liberation Sans", sans-serif' textLength="9.9" lengthAdjust="spacingAndGlyphs" font-weight="bold" font-style="italic">B</text>
<text x="725.6" y="829.8" font-size="22" fill="#1d4890" text-anchor="start" font-family='"Liberation Sans", sans-serif' textLength="9.0" lengthAdjust="spacingAndGlyphs" font-weight="bold" font-style="italic">R</text>
<text x="737.1" y="829.8" font-size="22" fill="#1d4890" text-anchor="start" font-family='"Liberation Sans", sans-serif' textLength="9.5" lengthAdjust="spacingAndGlyphs" font-weight="bold" font-style="italic">O</text>
<text x="748.6" y="829.8" font-size="22" fill="#1d4890" text-anchor="start" font-family='"Liberation Sans", sans-serif' textLength="16.3" lengthAdjust="spacingAndGlyphs" font-weight="bold" font-style="italic">W</text>
<text x="764.6" y="829.8" font-size="22" fill="#1d4890" text-anchor="start" font-family='"Liberation Sans", sans-serif' textLength="12.2" lengthAdjust="spacingAndGlyphs" font-weight="bold" font-style="italic">A</text>
<text x="778.4" y="829.8" font-size="22" fill="#1d4890" text-anchor="start" font-family='"Liberation Sans", sans-serif' textLength="10.8" lengthAdjust="spacingAndGlyphs" font-weight="bold" font-style="italic">R</text>
<text x="790.8" y="829.8" font-size="22" fill="#1d4890" text-anchor="start" font-family='"Liberation Sans", sans-serif' textLength="14.0" lengthAdjust="spacingAndGlyphs" font-weight="bold" font-style="italic">D</text>
<text x="711.9" y="841.6" font-size="6.4" fill="#7d7d8a" text-anchor="start" font-family='"Liberation Sans", sans-serif' font-style="italic" textLength="131.2" lengthAdjust="spacing">MEDICAL GAS SPECIALISTS</text>
<path d="M810.6,829.2 L827.9,804 H836.3 L845.2,829.2 H837.3 L835.4,823.1 H821.4 L818.3,829.2 Z M824.2,818.9 H834.2 L831.9,809.6 Z" stroke="none" stroke-width="0" fill="#3a9e3c" fill-rule="evenodd"/>
<path d="M860.4,793.2 C865.5,793.2 869.5,796.5 869.5,802.5 C869.5,808 867,812 864.5,815.2 H870.4 V835.3 H871.8 V838.6 H864.5 L863.8,837 C862.5,838.5 860.5,839.2 858.5,839.2 C854,839.2 851.3,835 851.3,828.5 C851.3,823 853.5,819 856.5,816 C853.5,812.5 851.3,808 851.3,802.5 C851.3,796.5 855.5,793.2 860.4,793.2 Z M860.8,798.4 C862.8,798.4 863.9,800.5 863.9,804 C863.9,807.5 862.5,810 860.8,811 C859,810 857.8,807.5 857.8,804 C857.8,800.5 858.8,798.4 860.8,798.4 Z M856.8,819.4 L859.6,819.4 L864,833.3 Q862.2,835.9 859.8,835.8 Q856.8,835.3 856.8,830 Z" stroke="none" stroke-width="0" fill="#1d4890" fill-rule="evenodd"/>
<line x1="860.2" y1="786.7" x2="860.2" y2="793.5" stroke="#1d4890" stroke-width="1.4" />
<line x1="855.9" y1="788.5" x2="864.8" y2="788.5" stroke="#1d4890" stroke-width="1.3" />
<path d="M857.5,793.6 Q860.2,790 863,793.6 Z" stroke="none" stroke-width="0" fill="#1d4890" />
<path d="M885,804 H906.9 L906,811.9 H887.5 Q885.6,811.9 885.4,813.8 L884.8,819.4 Q884.6,821.3 886.5,821.3 H904.5 L903.6,828.7 H882 Q876.3,828.7 876.9,823 L878.6,809.5 Q879.3,804 885,804 Z" stroke="none" stroke-width="0" fill="#3a9e3c" />
</svg>
</body></html>
